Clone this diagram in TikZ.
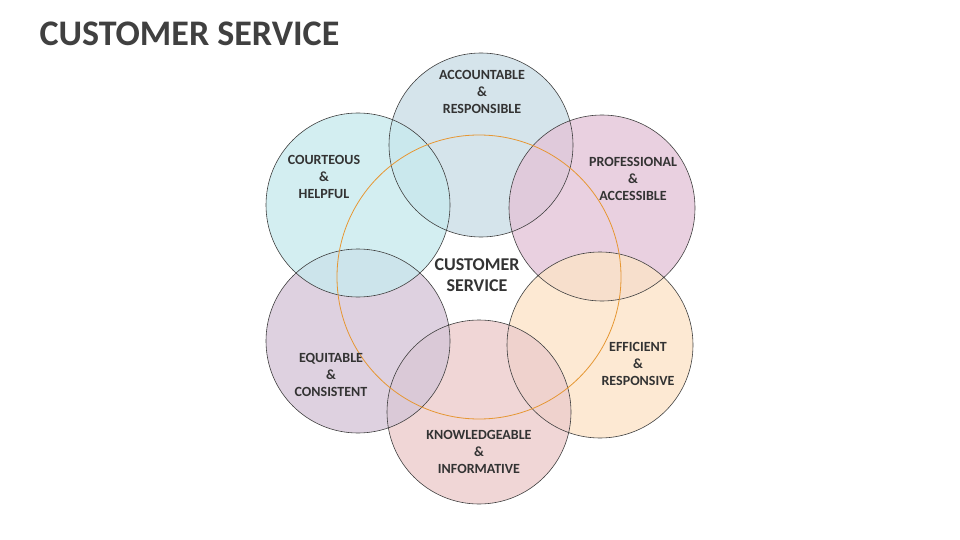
\documentclass[tikz,border=0pt]{standalone}
\usepackage{fontspec}
\setmainfont{Carlito}
\begin{document}
\begin{tikzpicture}[x=1pt,y=-1pt,
  circ/.style={fill opacity=0.8},
  lbl/.style={align=center,font=\bfseries\fontsize{14}{17}\selectfont,text=black!80}]
\useasboundingbox (0,0) rectangle (960,540);
\node[anchor=west,font=\bfseries\fontsize{36}{40}\selectfont,text=black!75] (title) at (36,34) {CUSTOMER SERVICE};
\fill[circ,fill={rgb,255:red,203;green,221;blue,230}] (481,145) circle (92);
\fill[circ,fill={rgb,255:red,228;green,196;blue,216}] (602,208) circle (93);
\fill[circ,fill={rgb,255:red,252;green,228;blue,200}] (600,345) circle (93);
\fill[circ,fill={rgb,255:red,236;green,204;blue,204}] (479,412) circle (92);
\fill[circ,fill={rgb,255:red,214;green,198;blue,216}] (358,341) circle (92);
\fill[circ,fill={rgb,255:red,200;green,234;blue,238}] (358,205) circle (92);
\draw[black!75,line width=0.6pt] (481,145) circle (92) (602,208) circle (93) (600,345) circle (93)
  (479,412) circle (92) (358,341) circle (92) (358,205) circle (92);
\draw[draw={rgb,255:red,230;green,150;blue,50},line width=0.8pt] (479,277) circle (142);
\node[lbl] (a) at (482,92) {ACCOUNTABLE\\\&\\RESPONSIBLE};
\node[lbl] (b) at (633,179) {PROFESSIONAL\\\&\\ACCESSIBLE};
\node[lbl] (c) at (638,364) {EFFICIENT\\\&\\RESPONSIVE};
\node[lbl] (d) at (479,452) {KNOWLEDGEABLE\\\&\\INFORMATIVE};
\node[lbl] (e) at (331,375) {EQUITABLE\\\&\\CONSISTENT};
\node[lbl] (f) at (324,177) {COURTEOUS\\\&\\HELPFUL};
\node[lbl,font=\bfseries\fontsize{18}{21}\selectfont] (g) at (477,275) {CUSTOMER\\SERVICE};
\end{tikzpicture}
\end{document}
